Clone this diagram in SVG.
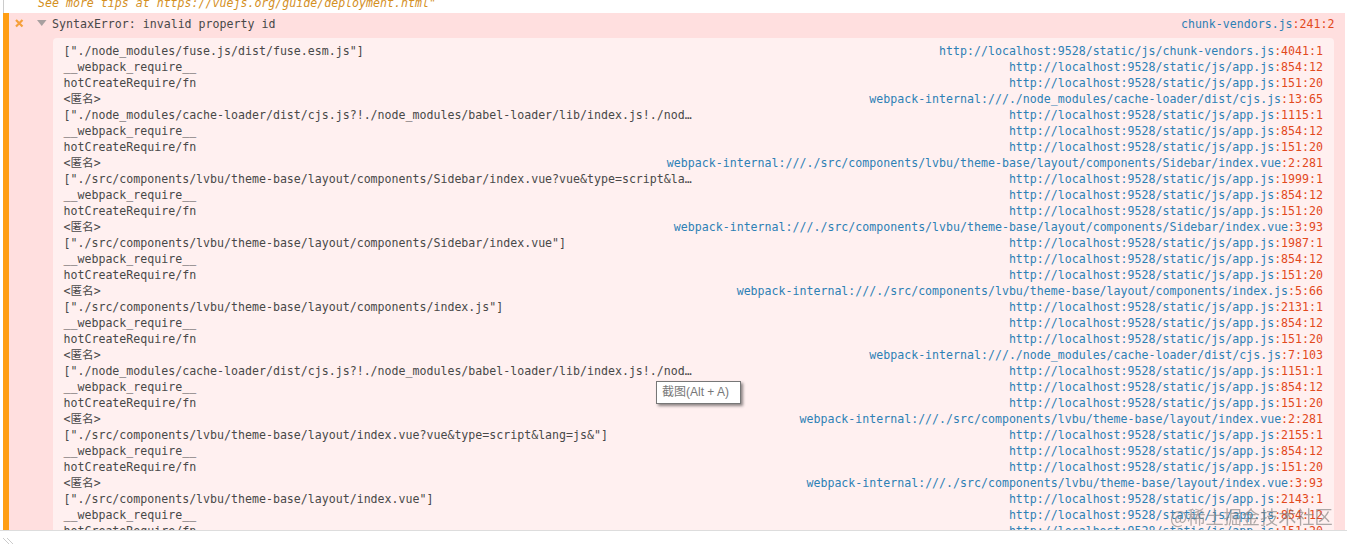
<svg xmlns="http://www.w3.org/2000/svg" width="1347" height="545" viewBox="0 0 1347 545">
<style>
text{font-family:"DejaVu Sans Mono","Noto Sans CJK SC",monospace;font-size:11.6px;fill:#484848}
.r{text-anchor:end;fill:#2d80b5}
.n{fill:#e2491c}
.o{fill:#d4901f;font-style:italic}
</style>
<defs><clipPath id="c"><rect x="0" y="0" width="1347" height="530"/></clipPath>
<filter id="s" x="-10%" y="-20%" width="125%" height="150%"><feDropShadow dx="2" dy="2" stdDeviation="1.5" flood-color="#000" flood-opacity=".45"/></filter></defs>
<rect width="1347" height="545" fill="#fff"/>
<rect x="3" y="0" width="1" height="13" fill="#ccc"/>
<g id="tip"><text class="o" x="38" y="7">See more tips at https://vuejs.org/guide/deployment.html"</text></g>
<g id="panel">
<rect x="3" y="13" width="1342" height="517" fill="#ffdfdf"/>
<rect x="3" y="13" width="6" height="517" fill="#ff9e12"/>
<rect x="53" y="38" width="1281" height="500" rx="4" fill="#fff0f0" clip-path="url(#c)"/>
<path d="M16 20l6.500 6.500m0-6.500l-6.500 6.500" stroke="#f5a03c" stroke-width="2.200" fill="none"/>
<path d="M37 20h9.500l-4.750 6z" fill="#a8a0a0"/>
<text x="52" y="28">SyntaxError: invalid property id</text>
<text class="r" x="1334.500" y="28">chunk-vendors.js<tspan class="n">:241:2</tspan></text>
</g>
<g id="stack" clip-path="url(#c)">
<text x="63.500" y="55">["./node_modules/fuse.js/dist/fuse.esm.js"]</text>
<text class="r" x="1323" y="55">http://localhost:9528/static/js/chunk-vendors.js<tspan class="n">:4041:1</tspan></text>
<text x="63.500" y="71">__webpack_require__</text><text class="r" x="1323" y="71">http://localhost:9528/static/js/app.js<tspan class="n">:854:12</tspan></text>
<text x="63.500" y="87">hotCreateRequire/fn</text><text class="r" x="1323" y="87">http://localhost:9528/static/js/app.js<tspan class="n">:151:20</tspan></text>
<text x="63.500" y="103">&lt;匿名&gt;</text><text class="r" x="1323" y="103">webpack-internal:///./node_modules/cache-loader/dist/cjs.js<tspan class="n">:13:65</tspan></text>
<text x="63.500" y="119">["./node_modules/cache-loader/dist/cjs.js?!./node_modules/babel-loader/lib/index.js!./nod…</text><text class="r" x="1323" y="119">http://localhost:9528/static/js/app.js<tspan class="n">:1115:1</tspan></text>
<text x="63.500" y="135">__webpack_require__</text><text class="r" x="1323" y="135">http://localhost:9528/static/js/app.js<tspan class="n">:854:12</tspan></text>
<text x="63.500" y="151">hotCreateRequire/fn</text><text class="r" x="1323" y="151">http://localhost:9528/static/js/app.js<tspan class="n">:151:20</tspan></text>
<text x="63.500" y="167">&lt;匿名&gt;</text><text class="r" x="1323" y="167">webpack-internal:///./src/components/lvbu/theme-base/layout/components/Sidebar/index.vue<tspan class="n">:2:281</tspan></text>
<text x="63.500" y="183">["./src/components/lvbu/theme-base/layout/components/Sidebar/index.vue?vue&amp;type=script&amp;la…</text><text class="r" x="1323" y="183">http://localhost:9528/static/js/app.js<tspan class="n">:1999:1</tspan></text>
<text x="63.500" y="199">__webpack_require__</text><text class="r" x="1323" y="199">http://localhost:9528/static/js/app.js<tspan class="n">:854:12</tspan></text>
<text x="63.500" y="215">hotCreateRequire/fn</text><text class="r" x="1323" y="215">http://localhost:9528/static/js/app.js<tspan class="n">:151:20</tspan></text>
<text x="63.500" y="231">&lt;匿名&gt;</text><text class="r" x="1323" y="231">webpack-internal:///./src/components/lvbu/theme-base/layout/components/Sidebar/index.vue<tspan class="n">:3:93</tspan></text>
<text x="63.500" y="247">["./src/components/lvbu/theme-base/layout/components/Sidebar/index.vue"]</text><text class="r" x="1323" y="247">http://localhost:9528/static/js/app.js<tspan class="n">:1987:1</tspan></text>
<text x="63.500" y="263">__webpack_require__</text><text class="r" x="1323" y="263">http://localhost:9528/static/js/app.js<tspan class="n">:854:12</tspan></text>
<text x="63.500" y="279">hotCreateRequire/fn</text><text class="r" x="1323" y="279">http://localhost:9528/static/js/app.js<tspan class="n">:151:20</tspan></text>
<text x="63.500" y="295">&lt;匿名&gt;</text><text class="r" x="1323" y="295">webpack-internal:///./src/components/lvbu/theme-base/layout/components/index.js<tspan class="n">:5:66</tspan></text>
<text x="63.500" y="311">["./src/components/lvbu/theme-base/layout/components/index.js"]</text><text class="r" x="1323" y="311">http://localhost:9528/static/js/app.js<tspan class="n">:2131:1</tspan></text>
<text x="63.500" y="327">__webpack_require__</text><text class="r" x="1323" y="327">http://localhost:9528/static/js/app.js<tspan class="n">:854:12</tspan></text>
<text x="63.500" y="343">hotCreateRequire/fn</text><text class="r" x="1323" y="343">http://localhost:9528/static/js/app.js<tspan class="n">:151:20</tspan></text>
<text x="63.500" y="359">&lt;匿名&gt;</text><text class="r" x="1323" y="359">webpack-internal:///./node_modules/cache-loader/dist/cjs.js<tspan class="n">:7:103</tspan></text>
<text x="63.500" y="375">["./node_modules/cache-loader/dist/cjs.js?!./node_modules/babel-loader/lib/index.js!./nod…</text><text class="r" x="1323" y="375">http://localhost:9528/static/js/app.js<tspan class="n">:1151:1</tspan></text>
<text x="63.500" y="391">__webpack_require__</text><text class="r" x="1323" y="391">http://localhost:9528/static/js/app.js<tspan class="n">:854:12</tspan></text>
<text x="63.500" y="407">hotCreateRequire/fn</text><text class="r" x="1323" y="407">http://localhost:9528/static/js/app.js<tspan class="n">:151:20</tspan></text>
<text x="63.500" y="423">&lt;匿名&gt;</text><text class="r" x="1323" y="423">webpack-internal:///./src/components/lvbu/theme-base/layout/index.vue<tspan class="n">:2:281</tspan></text>
<text x="63.500" y="439">["./src/components/lvbu/theme-base/layout/index.vue?vue&amp;type=script&amp;lang=js&amp;"]</text><text class="r" x="1323" y="439">http://localhost:9528/static/js/app.js<tspan class="n">:2155:1</tspan></text>
<text x="63.500" y="455">__webpack_require__</text><text class="r" x="1323" y="455">http://localhost:9528/static/js/app.js<tspan class="n">:854:12</tspan></text>
<text x="63.500" y="471">hotCreateRequire/fn</text><text class="r" x="1323" y="471">http://localhost:9528/static/js/app.js<tspan class="n">:151:20</tspan></text>
<text x="63.500" y="487">&lt;匿名&gt;</text><text class="r" x="1323" y="487">webpack-internal:///./src/components/lvbu/theme-base/layout/index.vue<tspan class="n">:3:93</tspan></text>
<text x="63.500" y="503">["./src/components/lvbu/theme-base/layout/index.vue"]</text><text class="r" x="1323" y="503">http://localhost:9528/static/js/app.js<tspan class="n">:2143:1</tspan></text>
<text x="63.500" y="519">__webpack_require__</text><text class="r" x="1323" y="519">http://localhost:9528/static/js/app.js<tspan class="n">:854:12</tspan></text>
<text x="63.500" y="535">hotCreateRequire/fn</text><text class="r" x="1323" y="535">http://localhost:9528/static/js/app.js<tspan class="n">:151:20</tspan></text>
</g>
<rect x="0" y="530" width="1347" height="1" fill="#ddd"/>
<path d="M3 538l6 6M7 538l6 6" stroke="#ccc" fill="none"/>
<g id="tooltip">
<rect x="656.500" y="381.500" width="84" height="22" fill="#fff" stroke="#777" filter="url(#s)"/>
<text x="662" y="396" style="font-family:'Liberation Sans','Noto Sans CJK SC',sans-serif;font-size:12px;fill:#777">截图(Alt + A)</text>
</g>
<text x="1170" y="523.500" style="font-family:'Noto Sans CJK SC','Liberation Sans',sans-serif;font-size:18.200px;fill:#777;opacity:.6">@稀土掘金技术社区</text>
</svg>
